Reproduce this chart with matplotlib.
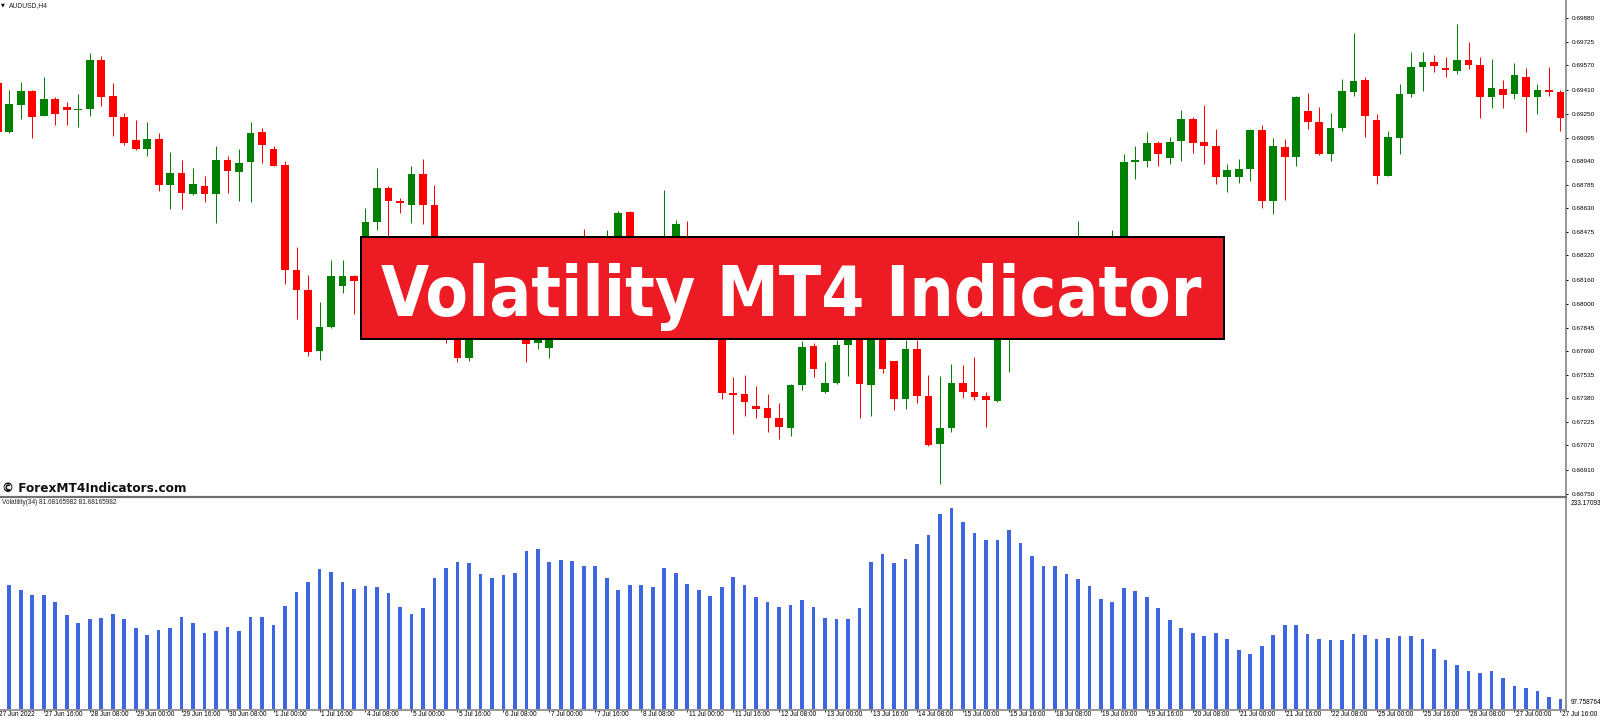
import matplotlib
matplotlib.use("Agg")
import matplotlib.pyplot as plt
from matplotlib.patches import Rectangle
from matplotlib.lines import Line2D
from matplotlib.transforms import ScaledTranslation, blended_transform_factory
from matplotlib import font_manager as fm
import numpy as np

plt.rcParams['font.family'] = ['Liberation Sans', 'DejaVu Sans']

# ---------------- data ----------------
symbol_label = "AUDUSD,H4"
indicator_label = "Volatility(34) 81.68165982 81.68165982"
watermark = "\u00a9 ForexMT4Indicators.com"
banner_title = "Volatility MT4 Indicator"

opens = [0.69456, 0.69129, 0.69310, 0.69404, 0.69238, 0.69347, 0.69295, 0.69274, 0.69286, 0.69604,
         0.69368, 0.69229, 0.69077, 0.69023, 0.69086, 0.68784, 0.68863, 0.68724, 0.68778, 0.68724,
         0.68950, 0.68869, 0.68932, 0.69129, 0.69023, 0.68917, 0.68224, 0.68094, 0.67692, 0.67846,
         0.68118, 0.68185, 0.68306, 0.68539, 0.68763, 0.68678, 0.68654, 0.68857, 0.68651, 0.68185,
         0.67913, 0.67647, 0.67883, 0.68064, 0.67913, 0.68125, 0.67973, 0.67743, 0.67713, 0.67883,
         0.68125, 0.68306, 0.68064, 0.68306, 0.68367, 0.68605, 0.68276, 0.68064, 0.68306, 0.68306,
         0.68427, 0.68246, 0.68004, 0.67822, 0.67414, 0.67405, 0.67332, 0.67314, 0.67247, 0.67187,
         0.67465, 0.67725, 0.67423, 0.67483, 0.67731, 0.67943, 0.67468, 0.67852, 0.67625, 0.67377,
         0.67707, 0.67392, 0.67078, 0.67187, 0.67480, 0.67423, 0.67392, 0.67359, 0.67883, 0.68185,
         0.68064, 0.68246, 0.68336, 0.68185, 0.68306, 0.68397, 0.68246, 0.68306, 0.68306, 0.68935,
         0.68944, 0.69059, 0.68959, 0.69071, 0.69220, 0.69068, 0.69038, 0.68835, 0.68835, 0.68887,
         0.69147, 0.68678, 0.69032, 0.68968, 0.69271, 0.69198, 0.68987, 0.69156, 0.69392, 0.69471,
         0.69208, 0.68844, 0.69090, 0.69380, 0.69558, 0.69589, 0.69546, 0.69534, 0.69604, 0.69573,
         0.69362, 0.69416, 0.69380, 0.69495, 0.69365, 0.69410, 0.69395]
highs = [0.69486, 0.69410, 0.69462, 0.69410, 0.69492, 0.69359, 0.69329, 0.69383, 0.69652, 0.69631,
         0.69456, 0.69259, 0.69208, 0.69198, 0.69123, 0.69002, 0.68947, 0.68896, 0.68841, 0.69038,
         0.68972, 0.69023, 0.69198, 0.69159, 0.69038, 0.68941, 0.68376, 0.68191, 0.68010, 0.68288,
         0.68288, 0.68191, 0.68630, 0.68893, 0.68775, 0.68699, 0.68905, 0.68956, 0.68781, 0.68276,
         0.68004, 0.67943, 0.68125, 0.68094, 0.68185, 0.68155, 0.68034, 0.67913, 0.67943, 0.68185,
         0.68306, 0.68494, 0.68397, 0.68488, 0.68609, 0.68615, 0.68336, 0.68367, 0.68751, 0.68551,
         0.68548, 0.68306, 0.68064, 0.67883, 0.67520, 0.67535, 0.67459, 0.67411, 0.67350, 0.67474,
         0.67755, 0.67746, 0.67616, 0.67762, 0.68004, 0.68034, 0.67913, 0.67913, 0.67625, 0.67762,
         0.67762, 0.67535, 0.67526, 0.67604, 0.67601, 0.67653, 0.67423, 0.68125, 0.68306, 0.68246,
         0.68306, 0.68397, 0.68367, 0.68382, 0.68548, 0.68427, 0.68397, 0.68488, 0.68987, 0.69038,
         0.69132, 0.69071, 0.69099, 0.69274, 0.69229, 0.69310, 0.69153, 0.68923, 0.68953, 0.69153,
         0.69177, 0.69093, 0.69083, 0.69371, 0.69386, 0.69298, 0.69256, 0.69480, 0.69782, 0.69495,
         0.69250, 0.69138, 0.69449, 0.69661, 0.69661, 0.69637, 0.69622, 0.69843, 0.69722, 0.69628,
         0.69613, 0.69471, 0.69586, 0.69555, 0.69449, 0.69561, 0.69410]
lows = [0.69117, 0.69123, 0.69220, 0.69093, 0.69238, 0.69177, 0.69177, 0.69162, 0.69238, 0.69304,
        0.69108, 0.69047, 0.69014, 0.68972, 0.68745, 0.68624, 0.68624, 0.68714, 0.68669, 0.68533,
        0.68730, 0.68678, 0.68669, 0.68926, 0.68905, 0.68131, 0.67904, 0.67656, 0.67634, 0.67840,
        0.68070, 0.67934, 0.68185, 0.68488, 0.68367, 0.68599, 0.68530, 0.68524, 0.68064, 0.67746,
        0.67619, 0.67625, 0.67837, 0.67822, 0.67867, 0.67883, 0.67619, 0.67701, 0.67647, 0.67822,
        0.67883, 0.68034, 0.68004, 0.68246, 0.68306, 0.68155, 0.68004, 0.68034, 0.68246, 0.68246,
        0.68185, 0.67883, 0.67777, 0.67374, 0.67147, 0.67262, 0.67247, 0.67157, 0.67111, 0.67132,
        0.67435, 0.67520, 0.67414, 0.67474, 0.67526, 0.67253, 0.67262, 0.67544, 0.67302, 0.67308,
        0.67347, 0.67066, 0.66818, 0.67157, 0.67380, 0.67368, 0.67193, 0.67353, 0.67550, 0.67913,
        0.68004, 0.68185, 0.68064, 0.68125, 0.68246, 0.68125, 0.68125, 0.68215, 0.68246, 0.68820,
        0.68902, 0.68905, 0.68920, 0.68941, 0.68996, 0.68920, 0.68790, 0.68736, 0.68796, 0.68811,
        0.68633, 0.68593, 0.68684, 0.68905, 0.69153, 0.68978, 0.68941, 0.69138, 0.69371, 0.69099,
        0.68790, 0.68841, 0.68987, 0.69365, 0.69404, 0.69528, 0.69495, 0.69516, 0.69546, 0.69223,
        0.69292, 0.69289, 0.69347, 0.69132, 0.69250, 0.69368, 0.69135]
closes = [0.69129, 0.69319, 0.69404, 0.69232, 0.69347, 0.69250, 0.69277, 0.69286, 0.69604, 0.69365,
          0.69229, 0.69056, 0.69023, 0.69086, 0.68784, 0.68863, 0.68730, 0.68790, 0.68724, 0.68950,
          0.68875, 0.68929, 0.69123, 0.69047, 0.68911, 0.68224, 0.68094, 0.67683, 0.67846, 0.68182,
          0.68185, 0.68149, 0.68539, 0.68763, 0.68675, 0.68666, 0.68857, 0.68654, 0.68185, 0.67883,
          0.67647, 0.67883, 0.68064, 0.67913, 0.68125, 0.67943, 0.67737, 0.67852, 0.67883, 0.68125,
          0.68004, 0.68125, 0.68306, 0.68397, 0.68602, 0.68246, 0.68064, 0.68306, 0.68427, 0.68527,
          0.68246, 0.68004, 0.67822, 0.67414, 0.67402, 0.67356, 0.67308, 0.67247, 0.67193, 0.67465,
          0.67716, 0.67571, 0.67483, 0.67731, 0.67913, 0.67474, 0.67822, 0.67571, 0.67374, 0.67701,
          0.67392, 0.67075, 0.67187, 0.67480, 0.67420, 0.67386, 0.67368, 0.68064, 0.68185, 0.68064,
          0.68246, 0.68336, 0.68185, 0.68306, 0.68397, 0.68246, 0.68306, 0.68367, 0.68935, 0.68950,
          0.69059, 0.68990, 0.69068, 0.69220, 0.69062, 0.69038, 0.68835, 0.68881, 0.68887, 0.69147,
          0.68678, 0.69038, 0.68968, 0.69365, 0.69198, 0.68987, 0.69156, 0.69401, 0.69465, 0.69235,
          0.68844, 0.69102, 0.69380, 0.69558, 0.69589, 0.69564, 0.69540, 0.69604, 0.69573, 0.69362,
          0.69419, 0.69377, 0.69504, 0.69362, 0.69410, 0.69395, 0.69226]
volatility = [177.6, 176.8, 173.8, 170.6, 170.6, 165.9, 158.0, 152.7, 155.3, 155.6,
              158.5, 155.3, 149.2, 145.3, 148.3, 149.7, 156.8, 153.0, 146.2, 147.7,
              150.3, 147.7, 156.5, 156.8, 151.2, 163.5, 172.6, 178.8, 187.3, 185.3,
              179.1, 174.7, 176.2, 175.9, 172.1, 163.0, 158.3, 162.4, 181.5, 187.9,
              191.7, 190.9, 183.8, 181.5, 183.5, 184.4, 198.8, 200.2, 191.7, 193.2,
              192.0, 189.1, 189.1, 181.2, 173.8, 176.8, 176.8, 175.9, 187.9, 184.7,
              177.9, 173.8, 170.0, 175.9, 181.8, 177.1, 169.4, 166.2, 163.2, 164.1,
              167.6, 162.7, 155.6, 155.3, 155.3, 162.4, 191.7, 196.7, 190.9, 193.5,
              203.2, 209.1, 222.6, 226.1, 217.3, 210.2, 205.5, 205.8, 212.0, 203.5,
              195.3, 189.4, 188.8, 183.8, 180.9, 176.5, 168.2, 165.9, 175.3, 173.2,
              169.4, 162.4, 154.4, 149.7, 146.5, 144.5, 146.5, 142.7, 135.6, 133.0,
              138.3, 145.0, 151.5, 151.2, 145.6, 142.7, 141.8, 141.8, 145.6, 145.0,
              142.7, 143.0, 144.2, 144.2, 142.7, 136.2, 129.2, 125.7, 121.8, 121.0,
              121.8, 117.4, 112.2, 111.0, 109.2, 105.4, 103.9]

price_ticks = [0.69880, 0.69725, 0.69570, 0.69410, 0.69250, 0.69095, 0.68940, 0.68785,
               0.68630, 0.68475, 0.68320, 0.68160, 0.68000, 0.67845, 0.67690, 0.67535,
               0.67380, 0.67225, 0.67070, 0.66910, 0.66750]
vol_max_label = "233.17093"
vol_min_label = "97.758764"
vol_scale = (97.758764, 233.17093)
time_labels = ["27 Jun 2022", "27 Jun 16:00", "28 Jun 08:00", "29 Jun 00:00", "29 Jun 16:00",
               "30 Jun 08:00", "1 Jul 00:00", "1 Jul 16:00", "4 Jul 08:00", "5 Jul 00:00",
               "5 Jul 16:00", "6 Jul 08:00", "7 Jul 00:00", "7 Jul 16:00", "8 Jul 08:00",
               "11 Jul 00:00", "11 Jul 16:00", "12 Jul 08:00", "13 Jul 00:00", "13 Jul 16:00",
               "14 Jul 08:00", "15 Jul 00:00", "15 Jul 16:00", "18 Jul 08:00", "19 Jul 00:00",
               "19 Jul 16:00", "20 Jul 08:00", "21 Jul 00:00", "21 Jul 16:00", "22 Jul 08:00",
               "25 Jul 00:00", "25 Jul 16:00", "26 Jul 08:00", "27 Jul 00:00", "27 Jul 16:00"]
price_range = (0.66737, 0.70000)

# ---------------- layout ----------------
W, H = 1600, 720
fig = plt.figure(figsize=(16, 7.2), dpi=100)
fig.patch.set_facecolor('white')

def fx(x):
    return x / W

def fy(y):
    return 1 - y / H

AX_R = 1565
MAIN_BOT = 496
SUB_TOP = 497
SUB_BOT = 709
STEP = 11.49
X0 = -2.2
xlim = ((0 - X0) / STEP, (AX_R - X0) / STEP)

ax = fig.add_axes([0, fy(MAIN_BOT), fx(AX_R), MAIN_BOT / H])
axi = fig.add_axes([0, fy(SUB_BOT), fx(AX_R), (SUB_BOT - SUB_TOP) / H])

n = len(opens)
idx = np.arange(n)
o = np.array(opens); h = np.array(highs); l = np.array(lows); c = np.array(closes)
up = c >= o
cols = np.where(up, '#008000', '#ff0000')

px_per_pt = 100 / 72.0
ax.vlines(idx, l, h, colors=cols, linewidth=1 / px_per_pt, zorder=2)
min_h = (price_range[1] - price_range[0]) / MAIN_BOT * 1.6
body_bot = np.minimum(o, c)
body_h = np.maximum(np.abs(c - o), min_h)
ax.bar(idx, body_h, bottom=body_bot, width=0.67, color=cols, linewidth=0, zorder=3)

ax.set_xlim(*xlim)
ax.set_ylim(*price_range)
for s in ax.spines.values():
    s.set_visible(False)
ax.set_xticks([])
ax.yaxis.tick_right()
ax.set_yticks(price_ticks)
ax.set_yticklabels([f"{v:.5f}" for v in price_ticks])
ax.tick_params(axis='y', direction='out', length=2.2, width=0.7, colors='black',
               labelsize=4.6, pad=2.4)

# indicator panel
axi.bar(idx, volatility, width=0.32, color='#3d66e0', linewidth=0, zorder=2)
axi.set_xlim(*xlim)
axi.set_ylim(*vol_scale)
for s in axi.spines.values():
    s.set_visible(False)
axi.set_yticks([])
tick_idx = idx[::4]
axi.set_xticks(tick_idx[1:])
axi.set_xticklabels([])
axi.tick_params(axis='x', direction='out', length=2.2, width=0.7, colors='#333333')
trans = blended_transform_factory(axi.transData, axi.transAxes) + \
    ScaledTranslation(1.5 / 100, -2.5 / 100, fig.dpi_scale_trans)
for i, lab in zip(tick_idx, time_labels):
    axi.text(i, 0, lab, transform=trans, ha='left', va='top', fontsize=4.7,
             color='black', clip_on=False)

# frame lines
gray = '#808080'
fig.add_artist(Line2D([fx(AX_R + 0.5)] * 2, [fy(0), fy(SUB_BOT + 1)], color=gray,
                      lw=1.6 / px_per_pt, transform=fig.transFigure))
fig.add_artist(Line2D([0, fx(AX_R + 1)], [fy(MAIN_BOT + 0.5)] * 2, color='#707070',
                      lw=2.2 / px_per_pt, transform=fig.transFigure))
fig.add_artist(Line2D([0, fx(AX_R + 1)], [fy(SUB_BOT + 0.5)] * 2, color=gray,
                      lw=1.6 / px_per_pt, transform=fig.transFigure))

# texts
fig.text(fx(0.5), fy(5), "\u25bc", fontsize=3.5, ha='left', va='center',
         family=['DejaVu Sans'])
fig.text(fx(9.3), fy(5.5), symbol_label, fontsize=4.9, ha='left', va='center', color='#222222')
fig.text(fx(1.5), fy(503), indicator_label, fontsize=4.7, ha='left', va='center', color='#222222')
fig.text(fx(1571), fy(503.5), vol_max_label, fontsize=4.7, ha='left', va='center')
fig.text(fx(1571), fy(702.5), vol_min_label, fontsize=4.7, ha='left', va='center')

wm = fig.text(fx(2), fy(492), watermark, fontsize=8.8, fontweight='bold',
              family=['DejaVu Sans'], ha='left', va='baseline', color='#111111', zorder=10)

# banner
fig.add_artist(Rectangle((fx(361), fy(339)), fx(1224) - fx(361), fy(237) - fy(339),
                         transform=fig.transFigure, facecolor='#ed1c24', edgecolor='black',
                         linewidth=2 / px_per_pt, zorder=10))

banner_fp = fm.FontProperties(family='DejaVu Sans', weight='bold')
try:
    cand = fm.FontProperties(family='DejaVu Sans', weight='bold', stretch='condensed')
    path = fm.findfont(cand, fallback_to_default=False)
    if 'ondensed' in path:
        banner_fp = fm.FontProperties(fname=path)
except Exception:
    pass

bt = fig.text(fx(791.7), fy(316), banner_title, fontproperties=banner_fp,
              color='white', ha='center', va='baseline', zorder=11)
bt.set_fontsize(50)

fig.canvas.draw()
r = fig.canvas.get_renderer()
bw = bt.get_window_extent(r).width
bt.set_fontsize(50 * 820 / bw)
ww = wm.get_window_extent(r).width
wm.set_fontsize(8.8 * 186 / ww)

fig.savefig("out.png", dpi=100, facecolor='white')
